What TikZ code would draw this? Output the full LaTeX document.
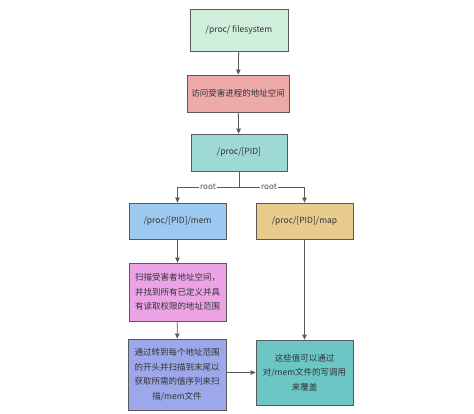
\documentclass[tikz,border=0pt]{standalone}
\usepackage{fontspec}
\setmainfont{Noto Sans CJK SC}
\usetikzlibrary{arrows.meta}
\definecolor{cA}{HTML}{CFEEDB}
\definecolor{cB}{HTML}{EEA9A9}
\definecolor{cC}{HTML}{9FD9D6}
\definecolor{cD}{HTML}{9DC9F0}
\definecolor{cE}{HTML}{E8CC8E}
\definecolor{cF}{HTML}{EBA3E6}
\definecolor{cG}{HTML}{9DA8EA}
\definecolor{cH}{HTML}{6CC6C4}
\definecolor{edge}{HTML}{5A5A5A}
\tikzset{
  box/.style={draw=edge, line width=0.8pt, align=center, inner sep=2pt,
    font=\fontsize{8.5}{14.5}\selectfont, text=black!80},
  conn/.style={draw=edge, line width=0.8pt, -{Triangle[length=5pt,width=4.5pt]}},
  plain/.style={draw=edge, line width=0.8pt},
  lbl/.style={fill=white, inner sep=1pt, font=\fontsize{8}{9}\selectfont, text=black!70}
}
\begin{document}
\begin{tikzpicture}[x=1pt,y=1pt]
\useasboundingbox (0,0) rectangle (474,413);
\node[box, fill=cA, minimum width=98pt, minimum height=42pt] (b1) at (239,382.5) {/proc/ filesystem};
\node[box, fill=cB, minimum width=102pt, minimum height=37pt] (b2) at (238,319.5) {访问受害进程的地址空间};
\node[box, fill=cC, minimum width=96pt, minimum height=37pt] (b3) at (239,260.5) {/proc/[PID]};
\node[box, fill=cD, minimum width=97pt, minimum height=36pt] (b4) at (177.5,192) {/proc/[PID]/mem};
\node[box, fill=cE, minimum width=97pt, minimum height=36pt] (b5) at (304.5,192) {/proc/[PID]/map};
\node[box, fill=cF, minimum width=97pt, minimum height=58pt, text width=92pt] (b6) at (177.5,121) {扫描受害者地址空间，\\并找到所有已定义并具\\有读取权限的地址范围};
\node[box, fill=cG, minimum width=98pt, minimum height=71pt, text width=92pt] (b7) at (177,38.5) {通过转到每个地址范围\\的开头并扫描到末尾以\\获取所需的值序列来扫\\描/mem文件};
\node[box, fill=cH, minimum width=97pt, minimum height=65pt, text width=92pt] (b8) at (304.5,40.5) {这些值可以通过\\对/mem文件的写调用\\来覆盖};
\coordinate (br) at (239,226);
\coordinate (bl) at (177.5,226);
\coordinate (brr) at (304.5,226);
\draw[conn] (b1) -- (b2);
\draw[conn] (b2) -- (b3);
\draw[plain] (b3.south) -- (br);
\draw[conn] (br) -- (bl) -- (b4.north);
\draw[conn] (br) -- (brr) -- (b5.north);
\node[lbl] (r1) at (208,226) {root};
\node[lbl] (r2) at (269,226) {root};
\draw[conn] (b4) -- (b6);
\draw[conn] (b6) -- (b7);
\draw[conn] (b5) -- (b8);
\draw[conn] (b7.east |- b8.west) -- (b8.west);
\end{tikzpicture}
\end{document}
